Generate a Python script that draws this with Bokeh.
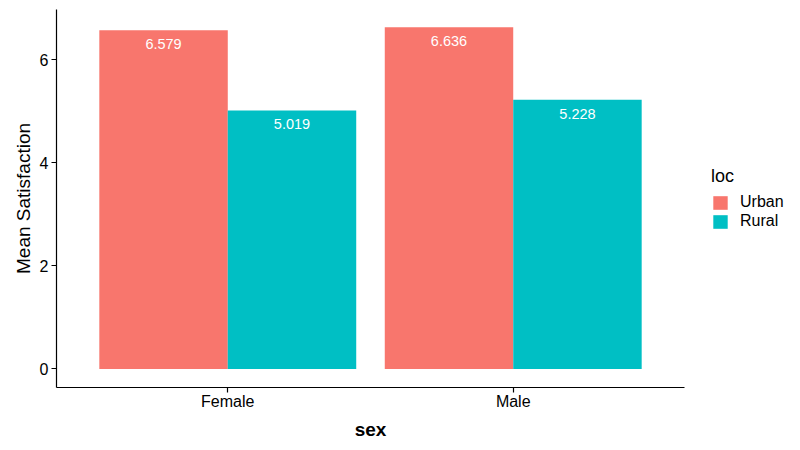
from bokeh.plotting import figure
from bokeh.models import ColumnDataSource, FactorRange, Range1d, Legend, LegendItem, FixedTicker
from bokeh.transform import dodge
from bokeh.core.properties import value
from bokeh.embed import file_html
from bokeh.resources import INLINE

sexes = ["Female", "Male"]
urban = [6.579, 6.636]
rural = [5.019, 5.228]
urban_labels = ["6.579", "6.636"]
rural_labels = ["5.019", "5.228"]
y_ticks = [0, 2, 4, 6]

FONT = "Liberation Sans"
C_URBAN = "#F8766D"
C_RURAL = "#00BFC4"

src = ColumnDataSource(dict(sex=sexes, urban=urban, rural=rural,
                            ul=urban_labels, rl=rural_labels))

p = figure(x_range=FactorRange(*sexes, range_padding=0.1, range_padding_units="absolute"),
           y_range=Range1d(-0.36, 6.98),
           frame_width=628, frame_height=378,
           min_border_left=56, min_border_right=116, min_border_top=9, min_border_bottom=63,
           output_backend="svg", toolbar_location=None, background_fill_color="white")

r_u = p.vbar(x=dodge("sex", -0.225, range=p.x_range), top="urban", bottom=0, width=0.45,
             source=src, fill_color=C_URBAN, line_color=None)
r_r = p.vbar(x=dodge("sex", 0.225, range=p.x_range), top="rural", bottom=0, width=0.45,
             source=src, fill_color=C_RURAL, line_color=None)

p.text(x=dodge("sex", -0.225, range=p.x_range), y="urban", text="ul", source=src,
       text_color="white", text_font=value(FONT), text_font_size="14.5px",
       text_align="center", text_baseline="middle", y_offset=14)
p.text(x=dodge("sex", 0.225, range=p.x_range), y="rural", text="rl", source=src,
       text_color="white", text_font=value(FONT), text_font_size="14.5px",
       text_align="center", text_baseline="middle", y_offset=14)

p.xgrid.visible = False
p.ygrid.visible = False
p.outline_line_color = None

for ax in (p.xaxis[0], p.yaxis[0]):
    ax.axis_line_color = "black"
    ax.axis_line_width = 1.2
    ax.major_tick_line_color = "black"
    ax.major_tick_line_width = 1.2
    ax.major_tick_out = 5
    ax.major_tick_in = 0
    ax.minor_tick_line_color = None
    ax.major_label_text_font = FONT
    ax.major_label_text_font_size = "16px"
    ax.major_label_text_color = "black"
    ax.axis_label_text_font = FONT
    ax.axis_label_text_font_size = "19px"
    ax.axis_label_text_color = "black"

p.yaxis[0].ticker = FixedTicker(ticks=y_ticks)
p.yaxis[0].axis_label = "Mean Satisfaction"
p.yaxis[0].axis_label_text_font_style = "normal"
p.yaxis[0].major_label_standoff = 3
p.yaxis[0].axis_label_standoff = 3
p.xaxis[0].axis_label = "sex"
p.xaxis[0].axis_label_text_font_style = "bold"
p.xaxis[0].major_label_standoff = 0
p.xaxis[0].axis_label_standoff = 6

legend = Legend(items=[LegendItem(label="Urban", renderers=[r_u]),
                       LegendItem(label="Rural", renderers=[r_r])],
                location="center_left", title="loc",
                title_text_font=FONT, title_text_font_size="18px", title_text_font_style="normal",
                title_text_color="black", title_standoff=6,
                label_text_font=FONT, label_text_font_size="16px", label_text_color="black",
                glyph_width=18, glyph_height=17, label_height=17, spacing=1,
                label_standoff=11, padding=0, margin=27,
                border_line_color=None, background_fill_alpha=0)
p.add_layout(legend, "right")

open("out.html", "w").write(file_html(p, INLINE))
